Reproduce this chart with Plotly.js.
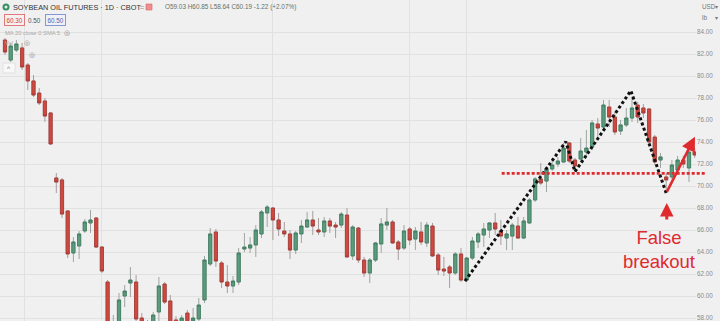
<!DOCTYPE html>
<html><head><meta charset="utf-8">
<script src="https://cdn.plot.ly/plotly-3.0.1.min.js"></script>
<style>html,body{margin:0;padding:0;background:#f0f0f0;}#chart{width:720px;height:321px;}</style>
</head><body><div id="chart"></div>
<script>
// Daily bars, Soybean Oil futures (CBOT), prices in US cents per lb
const openP = [83.27,81.45,82.36,82.55,81.00,79.55,78.45,77.73,76.64,70.73,
70.55,67.73,63.91,64.55,65.91,66.64,67.09,64.45,61.27,56.45,
56.91,60.00,61.18,61.27,58.00,56.45,57.09,58.55,61.09,59.55,
57.82,57.27,58.45,57.73,57.91,59.64,62.91,65.82,63.00,61.27,
60.91,61.27,64.27,64.36,64.64,65.64,67.55,68.00,66.91,65.91,
65.64,64.18,65.64,66.27,66.91,66.00,65.82,66.82,66.45,66.45,
67.36,63.64,66.18,63.27,62.09,63.27,64.73,66.45,66.73,64.91,
64.36,66.09,65.18,65.82,64.82,66.36,63.73,62.45,62.64,62.09,
63.82,61.45,63.45,64.91,65.55,66.00,66.64,65.91,65.27,65.45,
66.36,65.27,66.64,68.73,70.64,70.45,71.55,72.00,72.18,73.91,
72.36,72.45,73.09,73.55,75.64,75.36,77.18,76.27,75.00,75.55,
76.18,77.36,77.09,77.00,74.45,72.36,70.82,70.82,71.45,72.36,
71.64,73.09];
const closeP = [82.18,82.73,82.91,80.82,79.55,78.27,77.55,76.36,73.82,70.36,
67.45,63.82,64.91,65.64,66.73,66.91,64.45,62.27,56.91,57.36,
59.64,60.45,61.45,57.91,57.45,57.27,58.27,60.91,59.45,57.36,
57.27,58.00,57.09,58.00,59.18,63.27,65.64,63.18,61.27,60.91,
61.36,63.91,64.45,64.64,66.00,67.64,68.09,66.91,66.09,65.64,
64.18,65.73,66.36,66.91,66.36,65.82,66.82,66.36,66.27,67.45,
63.55,66.27,63.27,62.09,63.27,64.82,66.55,66.73,64.82,64.27,
65.91,65.09,65.91,64.91,66.45,63.64,62.36,62.27,62.09,63.82,
61.45,63.45,65.00,65.64,66.09,66.64,66.09,65.45,65.64,66.45,
65.27,66.82,68.73,70.64,70.27,71.55,71.91,72.27,73.45,72.27,
71.82,73.18,73.45,75.73,75.27,77.36,76.27,74.91,75.55,76.18,
77.09,76.27,76.64,74.00,72.18,72.64,70.55,71.91,72.36,72.00,
73.09,72.82];
const highP = [83.45,83.00,83.27,83.00,81.18,80.09,78.91,78.00,76.73,71.18,
70.73,67.82,65.36,65.91,67.00,67.82,67.18,64.55,61.45,58.27,
60.27,61.00,62.64,61.91,58.45,57.82,58.55,61.73,61.27,60.09,
58.18,58.27,58.73,58.91,59.82,63.64,66.18,66.09,63.18,62.82,
61.82,64.36,65.73,65.36,66.45,67.82,68.27,68.09,67.55,66.73,
66.00,65.91,66.91,67.64,67.73,67.09,67.18,67.09,66.73,67.64,
68.00,66.45,66.27,63.55,63.45,64.91,67.09,68.00,66.91,65.09,
66.45,66.27,66.27,66.73,66.73,66.64,63.91,63.55,62.82,64.00,
64.36,63.55,65.36,65.82,66.64,66.73,67.55,66.91,66.00,66.64,
67.18,67.18,68.91,70.82,72.09,71.73,72.36,72.64,73.91,74.00,
72.55,74.36,75.09,76.00,76.18,77.82,77.82,76.73,76.00,77.09,
78.00,77.64,77.45,77.09,74.64,73.00,71.18,72.36,72.73,72.73,
73.27,73.45];
const lowP = [81.91,81.27,82.18,80.55,78.73,78.09,77.36,75.82,73.73,69.36,
67.09,63.45,63.09,63.36,65.73,65.73,64.36,62.09,56.73,56.00,
56.64,59.00,59.91,57.64,56.91,56.00,56.82,57.73,59.27,56.91,
56.73,56.91,56.73,57.36,57.73,59.36,62.73,62.64,60.73,60.27,
60.27,61.00,64.00,63.91,63.55,65.27,66.27,65.09,65.45,65.36,
63.36,63.82,64.82,66.18,65.55,65.55,65.36,65.73,65.27,66.18,
63.45,63.27,63.00,61.73,61.18,63.09,63.91,66.00,64.73,63.27,
64.18,64.64,64.18,64.64,64.45,63.55,61.91,61.82,60.73,61.91,
61.27,61.27,63.27,64.36,64.45,65.27,65.55,64.64,64.18,64.18,
65.18,65.18,66.55,68.55,70.09,69.45,71.36,71.73,72.09,72.09,
71.27,72.18,72.64,73.27,74.36,75.27,75.36,74.64,74.64,75.36,
75.82,75.73,76.18,73.82,71.91,71.64,69.64,70.64,71.27,71.64,
70.36,72.55];

// Chart-pattern drawing (bar number, price)
const zigBars   = [80.7, 98.4, 100.0, 109.8, 116.0];
const zigPrices = [61.36, 74.03, 71.30, 78.66, 69.36];
const supportLevel = 71.15;
const breakoutFrom = [116.0, 69.36];
const breakoutTo   = [121.05, 74.48];
const priceTicks = [58,60,62,64,66,68,70,72,74,76,78,80,82,84];
const timeGrid = [3.5, 17, 47, 71, 81];

const bars = openP.map((_, i) => i);
const bodyHi = openP.map((o, i) => Math.max(o, closeP[i]));
const bodyLo = openP.map((o, i) => Math.min(o, closeP[i]));

const PW = 696, PH = 321;
const px = v => v / PW, py = v => 1 - v / PH;
const FONT = 'Liberation Sans, Arial, sans-serif';
const RED = '#df2a2e';

const wicks = {
  type: 'candlestick', x: bars, open: openP, close: closeP, high: highP, low: lowP,
  increasing: {line: {color: '#9da5a1', width: 1}, fillcolor: '#9da5a1'},
  decreasing: {line: {color: '#a89c9b', width: 1}, fillcolor: '#a89c9b'},
  whiskerwidth: 0, hoverinfo: 'skip', showlegend: false
};
const bodies = {
  type: 'candlestick', x: bars, open: openP, close: closeP, high: bodyHi, low: bodyLo,
  increasing: {line: {color: '#3e7c5f', width: 0.8}, fillcolor: '#5a9c7d'},
  decreasing: {line: {color: '#a63a33', width: 0.8}, fillcolor: '#d0483f'},
  whiskerwidth: 0, hoverinfo: 'skip', showlegend: false
};
const zig = {
  type: 'scatter', mode: 'lines', x: zigBars, y: zigPrices,
  line: {color: '#111', width: 3, dash: '3px,2.5px'}, hoverinfo: 'skip', showlegend: false
};

function txt(x, y, text, opts) {
  return Object.assign({xref: 'paper', yref: 'paper', x: px(x), y: py(y), text: text,
    showarrow: false, xanchor: 'left', yanchor: 'middle',
    font: {family: FONT, size: 6.5, color: '#666'}}, opts || {});
}

const annotations = [
  txt(11, 7, 'SOYBEAN OIL FUTURES · 1D · CBOT', {font: {family: FONT, size: 7.3, color: '#333'}}),
  txt(138, 7, '=', {font: {family: FONT, size: 7, color: '#888'}}),
  txt(163, 7, 'O59.03 H60.85 L58.64 C60.19 -1.22 (+2.07%)', {font: {family: FONT, size: 6.4, color: '#667066'}}),
  txt(14, 20, '60.30', {xanchor: 'center', font: {family: FONT, size: 6.3, color: '#d33b3b'},
     bordercolor: '#e07a7a', borderwidth: 1, borderpad: 1.5, bgcolor: '#f7f0f0'}),
  txt(34.5, 20, '0.50', {xanchor: 'center', font: {family: FONT, size: 6.3, color: '#555'}}),
  txt(55, 20, '60.50', {xanchor: 'center', font: {family: FONT, size: 6.3, color: '#4d62b0'},
     bordercolor: '#8596d4', borderwidth: 1, borderpad: 1.5, bgcolor: '#f0f1f7'}),
  txt(3, 33, 'MA 20 close 0 SMA 5', {font: {family: FONT, size: 5.8, color: '#a9a9a9'}}),
  txt(67, 33, '◎', {xanchor: 'center', font: {family: 'DejaVu Sans', size: 7, color: '#888'}}),
  txt(3, 43, 'Vol', {font: {family: FONT, size: 5.8, color: '#b0b0b0'}}),
  txt(27, 43, '◎', {xanchor: 'center', font: {family: 'DejaVu Sans', size: 7, color: '#888'}}),
  txt(32, 55, '◎', {xanchor: 'center', font: {family: 'DejaVu Sans', size: 7, color: '#888'}}),
  txt(9, 68, '^', {xanchor: 'center', font: {family: FONT, size: 6.5, color: '#777'}}),
  txt(700, 6, 'USD', {font: {family: FONT, size: 6.3, color: '#777'}}),
  txt(716, 6, '▾', {xanchor: 'center', font: {family: 'DejaVu Sans', size: 6, color: '#777'}}),
  txt(700, 17, 'lb', {font: {family: FONT, size: 6.3, color: '#777'}}),
  txt(716, 17, '▾', {xanchor: 'center', font: {family: 'DejaVu Sans', size: 6, color: '#777'}}),
  {xref: 'x', yref: 'y', x: breakoutTo[0], y: breakoutTo[1], axref: 'x', ayref: 'y',
   ax: breakoutFrom[0], ay: breakoutFrom[1], text: '', showarrow: true, arrowhead: 2,
   arrowsize: 1.1, arrowwidth: 2.6, arrowcolor: RED, standoff: 0, startstandoff: 0},
  {xref: 'x', yref: 'y', x: 116.1, y: 68.45, axref: 'x', ayref: 'y', ax: 116.1, ay: 66.82,
   text: '', showarrow: true, arrowhead: 2, arrowsize: 0.9, arrowwidth: 3, arrowcolor: RED,
   standoff: 0, startstandoff: 0},
  {xref: 'x', yref: 'y', x: 114.8, y: 64.27, text: 'False<br>breakout', showarrow: false,
   xanchor: 'center', yanchor: 'middle', borderpad: 0,
   font: {family: FONT, size: 18.5, color: RED}}
];

const shapes = [
  {type: 'circle', xref: 'paper', yref: 'paper', x0: px(2.5), x1: px(9.5), y0: py(10.5), y1: py(3.5),
   fillcolor: '#3a8f62', line: {width: 0}},
  {type: 'circle', xref: 'paper', yref: 'paper', x0: px(4.5), x1: px(7.5), y0: py(8.5), y1: py(5.5),
   fillcolor: '#dff0e6', line: {width: 0}},
  {type: 'rect', xref: 'paper', yref: 'paper', x0: px(146), x1: px(152), y0: py(10), y1: py(4),
   fillcolor: '#ef8f8f', line: {color: '#e06060', width: 0.6}},
  {type: 'rect', xref: 'paper', yref: 'paper', x0: px(3), x1: px(15), y0: py(73), y1: py(63),
   fillcolor: 'rgba(250,250,250,0.8)', line: {color: '#dcdcdc', width: 0.8}},
  {type: 'line', xref: 'paper', yref: 'y', x0: px(501.7), x1: px(705), y0: supportLevel, y1: supportLevel,
   line: {color: RED, width: 2.6, dash: '3px,2px'}}
];

const layout = {
  width: 720, height: 321,
  margin: {l: 0, r: 24, t: 0, b: 0, pad: 0},
  paper_bgcolor: '#f0f0f0', plot_bgcolor: '#f0f0f0',
  boxgap: 0.2,
  xaxis: {range: [-0.877, 121.23], tickvals: timeGrid, showticklabels: false, ticks: '',
          showgrid: true, gridcolor: '#e1e1e1', gridwidth: 1, zeroline: false, showline: false,
          rangeslider: {visible: false}, fixedrange: true},
  yaxis: {range: [57.727, 86.909], side: 'right', tickvals: priceTicks, tickformat: '.2f',
          ticks: '', showgrid: true, gridcolor: '#e1e1e1', gridwidth: 1, zeroline: false,
          showline: false, ticklabeloverflow: 'allow',
          tickfont: {family: FONT, size: 6.3, color: '#8a8a8a'}, fixedrange: true},
  showlegend: false,
  annotations: annotations, shapes: shapes
};

Plotly.newPlot('chart', [wicks, bodies, zig], layout, {displayModeBar: false, staticPlot: true});
</script></body></html>
